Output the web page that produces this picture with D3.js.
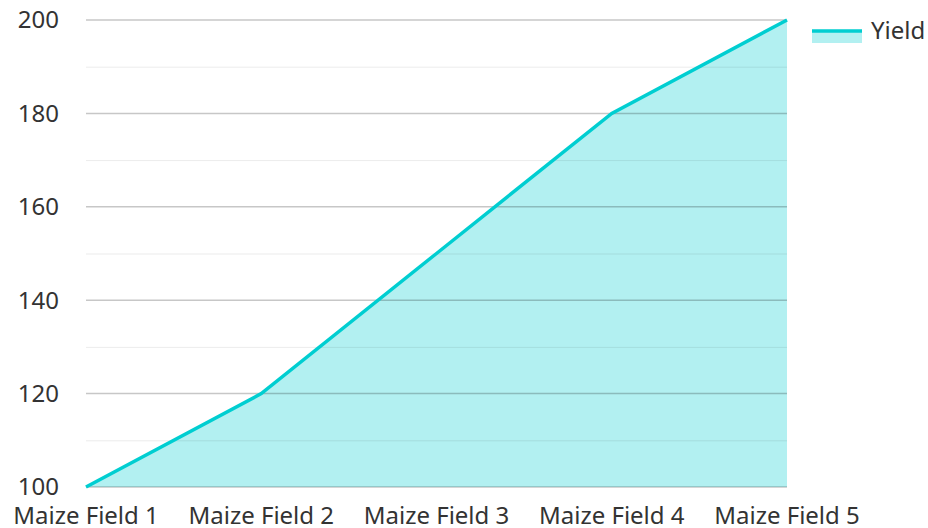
<!DOCTYPE html>
<html>
  <head>
    <meta charset="utf-8">
    <script src="https://cdn.jsdelivr.net/npm/d3@7"></script>
    <style>
      body { margin: 0; background: #fff; }
      text { font-family: "Noto Sans", "Open Sans", sans-serif; fill: #333; }
    </style>
  </head>
  <body>
    <script type="text/javascript">
      // chart values
      var fields = ["Maize Field 1", "Maize Field 2", "Maize Field 3", "Maize Field 4", "Maize Field 5"];
      var yieldValues = [100, 120, 150, 180, 200];
      var yTicks = [100, 120, 140, 160, 180, 200];
      var minorTicks = [110, 130, 150, 170, 190];

      var width = 928, height = 528;
      var plotLeft = 86, plotRight = 787, plotTop = 20, plotBottom = 487;
      var lineColor = "#00ced1";

      var svg = d3.select("body").append("svg")
          .attr("width", width)
          .attr("height", height);

      var x = d3.scalePoint().domain(fields).range([plotLeft, plotRight]);
      var y = d3.scaleLinear().domain([100, 200]).range([plotBottom, plotTop]);

      var data = fields.map(function (f, i) { return { name: f, value: yieldValues[i] }; });

      // area first, grid drawn over it
      svg.append("path")
          .datum(data)
          .attr("fill", lineColor)
          .attr("fill-opacity", 0.3)
          .attr("d", d3.area()
              .x(function (d) { return x(d.name); })
              .y0(y(100))
              .y1(function (d) { return y(d.value); }));

      // minor grid
      svg.selectAll(".minor")
          .data(minorTicks)
          .enter().append("line")
          .attr("x1", plotLeft).attr("x2", plotRight)
          .attr("y1", function (d) { return y(d) + 0.5; })
          .attr("y2", function (d) { return y(d) + 0.5; })
          .attr("stroke", "#000")
          .attr("stroke-opacity", 0.08)
          .attr("stroke-width", 1);

      // major grid
      svg.selectAll(".major")
          .data(yTicks)
          .enter().append("line")
          .attr("x1", plotLeft).attr("x2", plotRight)
          .attr("y1", function (d) { return y(d); })
          .attr("y2", function (d) { return y(d); })
          .attr("stroke", "#000")
          .attr("stroke-opacity", 0.22)
          .attr("stroke-width", 1.5);

      // line
      svg.append("path")
          .datum(data)
          .attr("fill", "none")
          .attr("stroke", lineColor)
          .attr("stroke-width", 3.5)
          .attr("d", d3.line()
              .x(function (d) { return x(d.name); })
              .y(function (d) { return y(d.value); }));

      // y labels
      svg.selectAll(".ylab")
          .data(yTicks)
          .enter().append("text")
          .attr("x", 59)
          .attr("y", function (d) { return y(d); })
          .attr("dy", "0.35em")
          .attr("text-anchor", "end")
          .style("font-size", "24px")
          .text(function (d) { return d; });

      // x labels
      svg.selectAll(".xlab")
          .data(fields)
          .enter().append("text")
          .attr("x", function (d) { return x(d); })
          .attr("y", 524)
          .attr("text-anchor", "middle")
          .style("font-size", "24px")
          .text(function (d) { return d; });

      // legend
      var lg = svg.append("g").attr("transform", "translate(812,31)");
      lg.append("rect")
          .attr("x", 0).attr("y", 0)
          .attr("width", 50).attr("height", 12)
          .attr("fill", lineColor).attr("fill-opacity", 0.3);
      lg.append("line")
          .attr("x1", 0).attr("x2", 50)
          .attr("y1", 0).attr("y2", 0)
          .attr("stroke", lineColor).attr("stroke-width", 3.5);
      lg.append("text")
          .attr("x", 59).attr("y", 0)
          .attr("dy", "0.35em")
          .style("font-size", "24px")
          .text("Yield");
    </script>
  </body>
</html>
